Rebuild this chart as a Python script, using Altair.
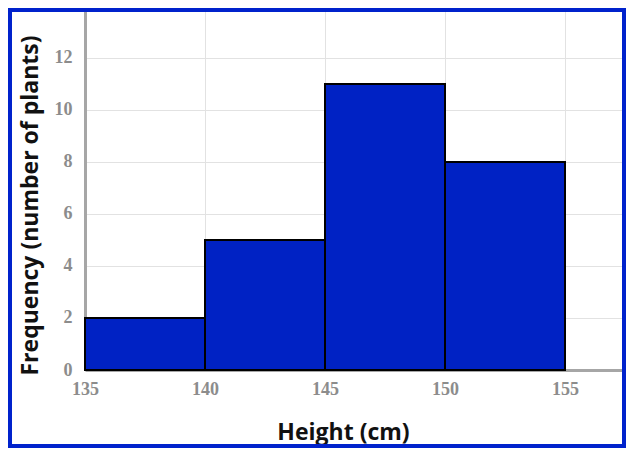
import altair as alt
import pandas as pd

# Data
bin_start = [135, 140, 145, 150]
bin_end = [140, 145, 150, 155]
frequency = [2, 5, 11, 8]
x_ticks = [135, 140, 145, 150, 155]
y_ticks = [0, 2, 4, 6, 8, 10, 12]

df = pd.DataFrame({"start": bin_start, "end": bin_end, "freq": frequency})

W, H = 537, 362
PAD_L, PAD_T, PAD_R, PAD_B = 77, 0, 4, 78

label_style = dict(
    labelFont="Liberation Serif",
    labelFontWeight="bold",
    labelFontSize=18,
    labelColor="#8c8c8c",
    labelFlush=False,
    ticks=False,
    domainColor="#a6a6a6",
    domainWidth=3,
    gridColor="#e2e2e2",
    gridWidth=1,
    titleFont="Open Sans",
    titleFontWeight="bold",
    titleFontSize=23,
    titleColor="#111111",
)

bars = alt.Chart(df).mark_bar(
    color="#0022C4", stroke="#000000", strokeWidth=2
).encode(
    x=alt.X(
        "start:Q",
        scale=alt.Scale(domain=[135, 157.375], nice=False, zero=False),
        axis=alt.Axis(
            values=x_ticks,
            title="Height (cm)",
            labelPadding=10,
            titleX=258,
            titleY=62,
            titleBaseline="middle",
            **label_style,
        ),
    ),
    x2="end:Q",
    y=alt.Y(
        "freq:Q",
        scale=alt.Scale(domain=[0, 13.92], nice=False),
        axis=alt.Axis(
            values=y_ticks,
            title="Frequency (number of plants)",
            labelPadding=13,
            titleX=-55,
            titleY=197,
            titleAngle=-90,
            titleBaseline="middle",
            titleAlign="center",
            **label_style,
        ),
    ),
    y2=alt.datum(0),
)

border = alt.Chart(pd.DataFrame({"a": [0]})).mark_rect(
    fill="transparent", stroke="#0022CC", strokeWidth=4
).encode(
    x=alt.value(-PAD_L + 2),
    x2=alt.value(W + PAD_R - 2),
    y=alt.value(-PAD_T + 2),
    y2=alt.value(H + PAD_B - 2),
)

chart = alt.layer(bars, border).properties(
    width=W,
    height=H,
    autosize=alt.AutoSizeParams(type="none"),
    padding={"left": PAD_L, "top": PAD_T, "right": PAD_R, "bottom": PAD_B},
).configure_view(stroke=None)

chart.save("out.html", embed_options={"renderer": "svg", "actions": False})
